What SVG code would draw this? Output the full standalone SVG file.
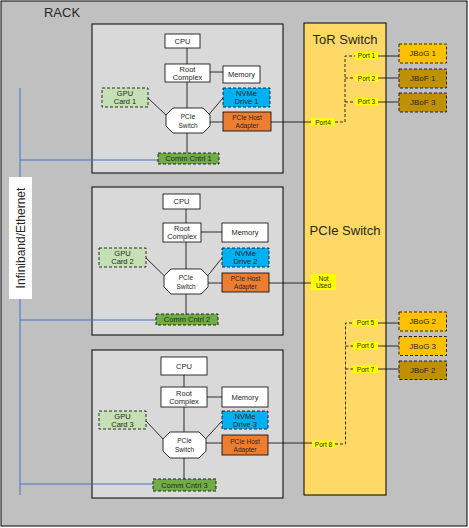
<svg xmlns="http://www.w3.org/2000/svg" width="469" height="528" viewBox="0 0 469 528">
<style>
text{font-family:"Liberation Sans",Arial,sans-serif;fill:#262626;text-anchor:middle}
.t{font-size:7.5px}
.p{font-size:6.5px}
.j{font-size:8px}
.srv{fill:#d9d9d9;stroke:#000;stroke-width:1}
.w{fill:#fff;stroke:#000;stroke-width:0.8}
.gpu{fill:#c5e0b4;stroke:#000;stroke-width:0.8;stroke-dasharray:3 2}
.nv{fill:#00b0f0;stroke:#000;stroke-width:0.8;stroke-dasharray:3 2}
.ha{fill:#ed7d31;stroke:#000;stroke-width:0.8}
.cc{fill:#70ad47;stroke:#000;stroke-width:0.8;stroke-dasharray:3 2}
.port{fill:#ffff00}
.jg{fill:#ffc000;stroke:#000;stroke-width:0.8;stroke-dasharray:3 2}
.jf{fill:#bf9000;stroke:#000;stroke-width:0.8;stroke-dasharray:3 2}
.ln{stroke:#000;stroke-width:0.8;fill:none}
.dl{stroke:#000;stroke-width:0.8;fill:none;stroke-dasharray:3 2}
.bl{stroke:#4472c4;stroke-width:1;fill:none}
</style>
<g id="rack">
<rect x="1" y="1" width="466" height="525" fill="#c0c0c0" stroke="#000" stroke-width="1"/>
<text x="62" y="17" style="font-size:13px">RACK</text>
</g>
<g id="server1"><rect class="srv" x="92" y="24" width="191" height="149"/></g>
<g id="server2"><rect class="srv" x="92" y="187" width="191" height="148"/></g>
<g id="server3"><rect class="srv" x="92" y="350" width="191" height="148"/></g>
<g id="tor-switch">
<rect x="304" y="23" width="82" height="472" fill="#ffd966" stroke="#000" stroke-width="1"/>
<text x="345" y="44" style="font-size:13px">ToR Switch</text>
<text x="345" y="235" style="font-size:13px">PCIe Switch</text>
</g>
<g id="connectors">
<path class="bl" d="M20,88V495" stroke-width="2"/>
<path class="bl" d="M20,160H158M20,320H156M20,484H153"/>
<path class="ln" d="M187,48V64M187,82V108M187,133V153M210,72H223M148,98L166.5,115.5M223,98L208.5,115M210,122H223M271,122H311"/>
<path class="ln" d="M186,209V223M186,242V269M186,294V314M201,232H222M146,258L164.5,276M222,258L207.5,276M208,283H222M269,283H311"/>
<path class="ln" d="M184,375V387M184,407V432M184,458V479M207,397H222M146,421L163,439M222,421L205.5,439M206,443H222M268,443H312"/>
<path class="dl" d="M335,122H345V56H355M345,78H355M345,102H355"/>
<path class="dl" d="M335,444H345.5V323H353M345.5,346H353M345.5,369H353"/>
<path class="ln" d="M378,56H399M378,78H399M378,102H399M378,323H399M378,346H399M378,369H399"/>
</g>
<g id="ib-label">
<rect x="9" y="177" width="23" height="122" fill="#fff"/>
<text transform="translate(24.5,238) rotate(-90)" style="font-size:12px">Infiniband/Ethernet</text>
</g>
<g id="cpu1"><rect class="w" x="165" y="34" width="35" height="14"/><text class="t" x="182.5" y="43.7">CPU</text></g>
<g id="root1"><rect class="w" x="165" y="64" width="45" height="18"/><text class="t" x="187.5" y="71.5">Root</text><text class="t" x="187.5" y="79.5">Complex</text></g>
<g id="mem1"><rect class="w" x="223" y="66" width="37" height="17"/><text class="t" x="241.5" y="77">Memory</text></g>
<g id="gpu1"><rect class="gpu" x="102" y="88" width="46" height="19"/><text class="t" x="125" y="96">GPU</text><text class="t" x="125" y="104">Card 1</text></g>
<g id="nvme1"><rect class="nv" x="223" y="88" width="47" height="19"/><text class="t" x="246.5" y="96">NVMe</text><text class="t" x="246.5" y="104">Drive 1</text></g>
<g id="psw1"><polygon class="w" points="173,108 203,108 210,115 210,126 203,133 173,133 166,126 166,115"/><text class="p" x="188" y="119">PCIe</text><text class="p" x="188" y="127.5">Switch</text></g>
<g id="ha1"><rect class="ha" x="223" y="112" width="48" height="19"/><text class="p" x="247" y="120">PCIe Host</text><text class="p" x="247" y="128">Adapter</text></g>
<g id="cc1"><rect class="cc" x="158" y="153" width="61" height="11"/><text class="t" x="188.5" y="161.2">Comm Cntrl 1</text></g>
<g id="cpu2"><rect class="w" x="163" y="194" width="37" height="15"/><text class="t" x="181.5" y="204.2">CPU</text></g>
<g id="root2"><rect class="w" x="163" y="223" width="38" height="19"/><text class="t" x="182" y="231">Root</text><text class="t" x="182" y="239">Complex</text></g>
<g id="mem2"><rect class="w" x="222" y="223" width="46" height="19"/><text class="t" x="245" y="235">Memory</text></g>
<g id="gpu2"><rect class="gpu" x="99" y="248" width="47" height="19"/><text class="t" x="122.5" y="256">GPU</text><text class="t" x="122.5" y="264">Card 2</text></g>
<g id="nvme2"><rect class="nv" x="222" y="248" width="47" height="19"/><text class="t" x="245.5" y="256">NVMe</text><text class="t" x="245.5" y="264">Drive 2</text></g>
<g id="psw2"><polygon class="w" points="171,269 201,269 208,276 208,287 201,294 171,294 164,287 164,276"/><text class="p" x="186" y="280">PCIe</text><text class="p" x="186" y="288.5">Switch</text></g>
<g id="ha2"><rect class="ha" x="222" y="273" width="47" height="19"/><text class="p" x="245.5" y="281">PCIe Host</text><text class="p" x="245.5" y="289">Adapter</text></g>
<g id="cc2"><rect class="cc" x="156" y="314" width="62" height="11"/><text class="t" x="187" y="322.2">Comm Cntrl 2</text></g>
<g id="cpu3"><rect class="w" x="161" y="357" width="46" height="18"/><text class="t" x="184" y="368.7">CPU</text></g>
<g id="root3"><rect class="w" x="161" y="387" width="46" height="20"/><text class="t" x="184" y="395.5">Root</text><text class="t" x="184" y="403.5">Complex</text></g>
<g id="mem3"><rect class="w" x="222" y="387" width="46" height="20"/><text class="t" x="245" y="399.7">Memory</text></g>
<g id="gpu3"><rect class="gpu" x="99" y="411" width="47" height="18"/><text class="t" x="122.5" y="418.5">GPU</text><text class="t" x="122.5" y="426.5">Card 3</text></g>
<g id="nvme3"><rect class="nv" x="222" y="411" width="46" height="18"/><text class="t" x="245" y="418.5">NVMe</text><text class="t" x="245" y="426.5">Drive 3</text></g>
<g id="psw3"><polygon class="w" points="170,432 199,432 206,439 206,451 199,458 170,458 163,451 163,439"/><text class="p" x="184.5" y="443">PCIe</text><text class="p" x="184.5" y="451.5">Switch</text></g>
<g id="ha3"><rect class="ha" x="222" y="435" width="46" height="20"/><text class="p" x="245" y="443.5">PCIe Host</text><text class="p" x="245" y="451.5">Adapter</text></g>
<g id="cc3"><rect class="cc" x="153" y="479" width="63" height="12"/><text class="t" x="184.5" y="487.7">Comm Cntrl 3</text></g>
<g id="port1"><rect class="port" x="355" y="52" width="23" height="7.5"/><text class="p" x="366.5" y="58.2">Port 1</text></g>
<g id="port2"><rect class="port" x="355" y="74.5" width="23" height="7.5"/><text class="p" x="366.5" y="80.7">Port 2</text></g>
<g id="port3"><rect class="port" x="355" y="98" width="23" height="7.5"/><text class="p" x="366.5" y="104.2">Port 3</text></g>
<g id="port4"><rect class="port" x="311" y="118.3" width="24" height="7.5"/><text class="p" x="323" y="124.5">Port4</text></g>
<g id="notused"><rect class="port" x="311" y="274" width="25" height="16"/><text class="p" x="323.5" y="281">Not</text><text class="p" x="323.5" y="288">Used</text></g>
<g id="port5"><rect class="port" x="353" y="319" width="25" height="7.5"/><text class="p" x="365.5" y="325.2">Port 5</text></g>
<g id="port6"><rect class="port" x="353" y="342" width="25" height="7.5"/><text class="p" x="365.5" y="348.2">Port 6</text></g>
<g id="port7"><rect class="port" x="353" y="365.5" width="25" height="7.5"/><text class="p" x="365.5" y="371.7">Port 7</text></g>
<g id="port8"><rect class="port" x="312" y="440.5" width="23" height="7.5"/><text class="p" x="323.5" y="446.7">Port 8</text></g>
<g id="jbog1"><rect class="jg" x="399" y="44" width="47.5" height="19"/><text class="j" x="422.7" y="56.3">JBoG 1</text></g>
<g id="jbof1"><rect class="jf" x="399" y="69" width="47.5" height="19"/><text class="j" x="422.7" y="81.3">JBoF 1</text></g>
<g id="jbof3"><rect class="jf" x="399" y="93" width="47.5" height="19"/><text class="j" x="422.7" y="105.3">JBoF 3</text></g>
<g id="jbog2"><rect class="jg" x="399" y="312" width="47.5" height="19"/><text class="j" x="422.7" y="324.3">JBoG 2</text></g>
<g id="jbog3"><rect class="jg" x="399" y="336.5" width="47.5" height="19"/><text class="j" x="422.7" y="348.8">JBoG 3</text></g>
<g id="jbof2"><rect class="jf" x="399" y="361" width="47.5" height="18.5"/><text class="j" x="422.7" y="373.3">JBoF 2</text></g>
</svg>
